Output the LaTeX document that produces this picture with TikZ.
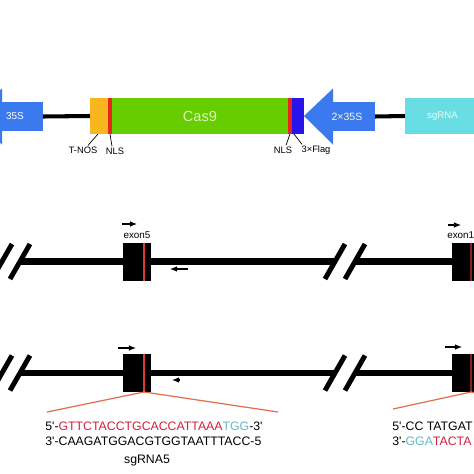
\documentclass[tikz,border=0pt]{standalone}
\usepackage{fontspec}
\setmainfont{Liberation Sans}
\usepackage{xcolor}
\usetikzlibrary{calc,arrows.meta,positioning}
\definecolor{promBlue}{RGB}{58,122,238}
\definecolor{nosOrange}{RGB}{250,182,30}
\definecolor{nlsRed}{RGB}{232,36,28}
\definecolor{casGreen}{RGB}{102,206,0}
\definecolor{casText}{RGB}{222,244,190}
\definecolor{flagBlue}{RGB}{40,20,235}
\definecolor{sgCyan}{RGB}{104,222,228}
\definecolor{sgText}{RGB}{232,250,250}
\definecolor{seqRed}{RGB}{210,30,60}
\definecolor{seqCyan}{RGB}{100,184,200}
\definecolor{fanRed}{RGB}{226,110,80}
\definecolor{exRed}{RGB}{220,60,40}
\newcommand{\qmark}{\textquotesingle}

\begin{document}
\begin{tikzpicture}[x=0.02cm, y=-0.02cm,
  blk/.style={inner sep=0pt, outer sep=0pt, minimum height=0.72cm},
  lbl/.style={inner sep=0pt, font=\fontsize{5.3}{6}\selectfont},
  lead/.style={black, line width=0.4pt},
  bb/.style={black, line width=2.3pt},
  gline/.style={black, line width=3.7pt},
  slash/.style={black, line width=2.8pt},
  exon/.style={fill=black, inner sep=0pt, outer sep=0pt, minimum width=0.56cm, minimum height=0.76cm},
  sarr/.style={-{Latex[length=4pt,width=3.2pt]}, line width=0.6pt},
  fan/.style={fanRed, line width=0.7pt},
  seq/.style={inner sep=0pt, anchor=west, font=\fontsize{7}{8.4}\selectfont}]
\useasboundingbox (0,0) rectangle (474,474);
\clip (0,0) rectangle (474,474);

% vector
\node[blk, fill=promBlue, minimum width=0.82cm, minimum height=0.58cm, anchor=west] (pr1) at (2,116.5) {};
\fill[promBlue] ($(pr1.west)+(0,-28)$) -- ($(pr1.west)+(-32,0)$) -- ($(pr1.west)+(0,28)$) -- cycle;
\node[text=white, inner sep=0pt, font=\fontsize{5.7}{6}\selectfont] (t35s) at (15,116.5) {35S};

\node[blk, fill=nosOrange, minimum width=0.36cm, anchor=west] (tnos) at (90,116) {};
\node[blk, fill=nlsRed, minimum width=0.08cm, right=0pt of tnos] (nlsa) {};
\node[blk, fill=casGreen, minimum width=3.52cm, right=0pt of nlsa, text=casText,
  font=\fontsize{8.3}{9}\selectfont] (cas) {Cas9};
\node[blk, fill=nlsRed, minimum width=0.08cm, right=0pt of cas] (nlsb) {};
\node[blk, fill=flagBlue, minimum width=0.24cm, right=0pt of nlsb] (flag) {};

\node[blk, fill=promBlue, minimum width=0.84cm, minimum height=0.58cm, anchor=west] (pr2) at (333,116.5) {};
\fill[promBlue] ($(pr2.west)+(0,-28)$) -- (flag.east) -- ($(pr2.west)+(0,28)$) -- cycle;
\node[text=casText!40!white, inner sep=0pt, font=\fontsize{6}{6}\selectfont] (t235s) at (347,116.5) {2×35S};

\node[blk, fill=sgCyan, minimum width=1.5cm, anchor=west, text=sgText,
  font=\fontsize{5.5}{6}\selectfont] (sg) at (405,116) {sgRNA};

\draw[bb] (pr1.east) -- (tnos.west);
\draw[bb] (pr2.east) -- (sg.west);

\node[lbl] (ltnos) at (83,150) {T-NOS};
\node[lbl] (lnlsa) at (115,151) {NLS};
\node[lbl] (lnlsb) at (283,150) {NLS};
\node[lbl] (lflag) at (316,150) {3×Flag};
\draw[lead] ($(tnos.south)+(-1,0)$) -- ($(ltnos.north)+(5,-1)$);
\draw[lead] (nlsa.south) -- ($(lnlsa.north)+(-3,-1)$);
\draw[lead] (nlsb.south) -- ($(lnlsb.north)+(3,-1)$);
\draw[lead] ($(flag.south)+(-4,0)$) -- ($(lflag.north)+(-14,-1)$);

% genomic rows
\node[exon] (e5a) at (137,261.5) {};
\node[exon] (e1a) at (466,261.5) {};
\node[exon] (e5b) at (137,373) {};
\node[exon] (e1b) at (466,373) {};
\draw[exRed, line width=0.6pt] ($(e5a.north)+(7,0)$) -- ($(e5a.south)+(7,0)$);
\draw[exRed, line width=0.6pt] ($(e5b.north)+(7,0)$) -- ($(e5b.south)+(7,0)$);
\draw[exRed!60!black, line width=0.6pt] ($(e1a.north)+(5,0)$) -- ($(e1a.south)+(5,0)$);
\draw[exRed!60!black, line width=0.6pt] ($(e1b.north)+(5,0)$) -- ($(e1b.south)+(5,0)$);

\coordinate (ba) at (20,261.5);
\coordinate (bb) at (335,261.5);
\coordinate (bc) at (355,261.5);
\coordinate (bd) at (20,373);
\coordinate (be) at (335,373);
\coordinate (bf) at (355,373);
\draw[gline] (ba) -- (e5a.west);
\draw[gline] (e5a.east) -- (bb);
\draw[gline] (bc) -- (e1a.west);
\draw[gline] (bd) -- (e5b.west);
\draw[gline] (e5b.east) -- (be);
\draw[gline] (bf) -- (e1b.west);
\foreach \yy in {261.5,373}
  \foreach \cc in {2,20,335,355}
    \draw[slash] (\cc+10,\yy-17.5) -- (\cc-10,\yy+17.5);

\node[lbl, font=\fontsize{5.6}{6}\selectfont] (x5) at (137,235) {exon5};
\node[lbl, font=\fontsize{5.6}{6}\selectfont, anchor=west] (x1) at (447,235) {exon1};
\draw[sarr] (122,224) -- (137,224);
\draw[sarr] (188,269) -- (170,269);
\draw[sarr] (448,225) -- (461,225);
\draw[sarr] (118,348) -- (136,348);
\draw[sarr] (179,380) -- (172,380);
\draw[sarr] (445,347) -- (462,347);

\draw[fan] ($(e5b.south)+(7,0)$) -- (47,412);
\draw[fan] ($(e5b.south)+(7,0)$) -- (278,412);
\draw[fan] ($(e1b.south)+(5,0)$) -- (393,409);
\draw[fan] ($(e1b.south)+(5,0)$) -- (560,412);

% sequences
\node[seq] (s5a) at (45,426) {5\qmark-\textcolor{seqRed}{GTTCTACCTGCACCATTAAA}\textcolor{seqCyan}{TGG}-3\qmark};
\node[seq] (s5b) at (45,441) {3\qmark-CAAGATGGACGTGGTAATTTACC-5};
\node[inner sep=0pt, font=\fontsize{7}{8}\selectfont] (sg5) at (147,461) {sgRNA5};
\node[seq] (s1a) at (392,426) {5\qmark-CC TATGAT};
\node[seq] (s1b) at (392,441) {3\qmark-\textcolor{seqCyan}{GGA}\textcolor{seqRed}{TACTA}};
\end{tikzpicture}
\end{document}
